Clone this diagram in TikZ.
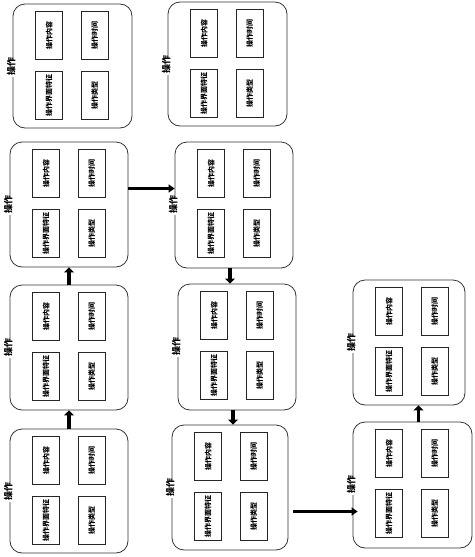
\documentclass[tikz,border=0pt]{standalone}
\usepackage{fontspec}
\newfontfamily\cjk{Noto Sans CJK SC}
\usetikzlibrary{arrows.meta,fit}

\tikzset{
  opgroup/.style={draw=black!80, line width=0.8pt, rounded corners=12pt, inner sep=0pt},
  opitem/.style={draw=black!85, line width=0.8pt, rotate=90, minimum width=48pt, minimum height=27pt, inner sep=0pt, font=\cjk\bfseries\fontsize{7}{8}\selectfont},
  oplabel/.style={fill=white, rotate=90, inner sep=1pt, font=\cjk\bfseries\fontsize{9}{10}\selectfont},
  flowv/.style={-{Triangle[length=5pt,width=10pt]}, line width=3.5pt},
  flowh/.style={-{Triangle[length=6pt,width=8pt]}, line width=2.5pt}
}

\begin{document}
\begin{tikzpicture}[x=1pt, y=-1pt]
  \useasboundingbox (0,0) rectangle (474,557);

  % the ten groups, each with its four items
  \foreach \n/\l/\t/\r/\b in {g1/13/4/132/128, g2/168/2/287/126,
      g3/10/142/128/267, g4/175/142/293/268, g5/10/285/128/410,
      g6/178/284/296/410, g7/10/429/128/553, g8/172/425/288/550,
      g9/353/422/472/548, g10/353/280/465/405}{
    \node[opgroup, fit={(\l,\t) (\r,\b)}] (\n) {};
    \node[opitem] (\n-content) at ([shift={(36.5,32)}]\n.north west) {操作内容};
    \node[opitem] (\n-time) at ([shift={(82,32)}]\n.north west) {操作时间};
    \node[opitem] (\n-ui) at ([shift={(36.5,92)}]\n.north west) {操作界面特征};
    \node[opitem] (\n-type) at ([shift={(82,92)}]\n.north west) {操作类型};
    \node[oplabel] (\n-label) at ([shift={(-1.5,63)}]\n.north west) {操作};
  }

  % flow between the groups
  \draw[flowh] ([yshift=16pt]g3.east) -- ([yshift=16pt]g3.east -| g4.west);
  \draw[flowh] ([shift={(5pt,-24pt)}]g8.east) -- ([shift={(5pt,-24pt)}]g8.east -| g9.west);
  \draw[flowv] (g7.north) -- (g5.south);
  \draw[flowv] (g5.north) -- (g3.south);
  \draw[flowv] ([xshift=-4pt]g4.south) -- ([xshift=-4pt]g4.south |- g6.north);
  \draw[flowv] ([xshift=-4pt]g6.south) -- ([xshift=-4pt]g6.south |- g8.north);
  \draw[flowv] ([xshift=6pt]g9.north) -- ([xshift=6pt]g9.north |- g10.south);
\end{tikzpicture}
\end{document}
